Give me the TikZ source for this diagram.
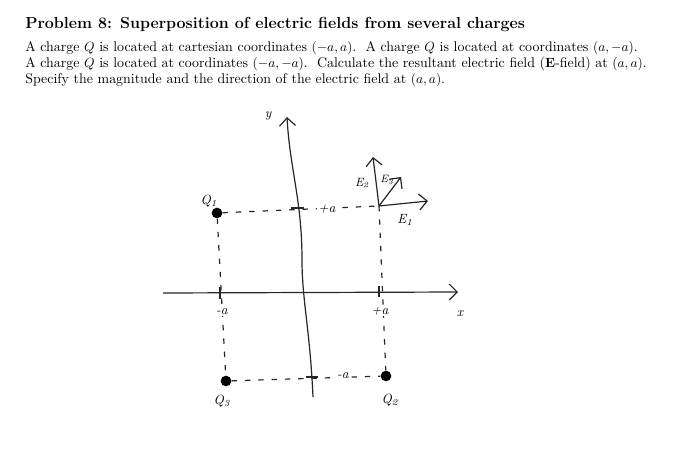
\documentclass[tikz,border=0pt]{standalone}
\usepackage{amsmath}
\usetikzlibrary{arrows.meta}
\begin{document}
\begin{tikzpicture}[x=0.75pt,y=-0.75pt,
  hand/.style={line width=0.9pt,black!85},
  guide/.style={line width=0.9pt,black!85,dash pattern=on 4pt off 6pt},
  lab/.style={font=\normalsize\itshape,inner sep=1pt},
  chg/.style={circle,fill=black,inner sep=0pt,minimum size=8pt},
  arr/.style={-{Straight Barb[length=6pt]}},
  txt/.style={anchor=base west,inner sep=0pt,font=\fontsize{10.45}{12}\selectfont}]
\useasboundingbox (0,0) rectangle (676,464);
\node[txt,font=\large\bfseries] (title) at (25,28) {Problem 8: Superposition of electric fields from several charges};
\node[txt] (l1) at (25,51) {A charge $Q$ is located at cartesian coordinates $(-a,a)$.\ \ A charge $Q$ is located at coordinates $(a,-a)$.};
\node[txt] (l2) at (25,67) {A charge $Q$ is located at coordinates $(-a,-a)$.\ \ Calculate the resultant electric field ($\mathbf{E}$-field) at $(a,a)$.};
\node[txt] (l3) at (25,83) {Specify the magnitude and the direction of the electric field at $(a,a)$.};
% axes
\coordinate (xl) at (163,293); \coordinate (xr) at (458,292);
\coordinate (yb) at (313,397); \coordinate (yt) at (287,117);
\draw[hand,arr] (xl) -- (xr);
\draw[hand,arr] (yb) .. controls (310,330) and (302,300) .. (302,260) .. controls (302,200) and (290,170) .. (yt);
\node[lab] (ylab) at (268,116) {y};
\node[lab] (xlab) at (460,314) {x};
% charges
\node[chg] (q1) at (217,213) {};
\node[chg] (q3) at (226,381) {};
\node[chg] (q2) at (386,376) {};
\coordinate (p) at (379,206);
\node[lab] (q1l) at (209,201) {Q\textsubscript{1}};
\node[lab] (q3l) at (222,401) {Q\textsubscript{3}};
\node[lab] (q2l) at (390,400) {Q\textsubscript{2}};
% dashed guides
\draw[guide] (q1) -- (p);
\draw[guide] (q1) -- (q3);
\draw[guide] (q3) -- (q2);
\draw[guide] (p) -- (q2);
% ticks
\draw[hand] (220,287) -- (220,299);
\draw[hand] (379,286) -- (379,297);
\draw[hand] (291,208) -- (304,208);
\draw[hand] (306,377) -- (318,377);
\node[lab,fill=white] (ta) at (327,209) {+a};
\node[lab,fill=white] (ba) at (343,376) {-a};
\node[lab,fill=white] (ma) at (222,312) {-a};
\node[lab,fill=white] (pa) at (380,311) {+a};
% field vectors
\draw[hand,arr] (p) -- (373,157);
\draw[hand,arr] (p) -- (401,177);
\draw[hand,arr] (p) -- (428,201);
\node[lab,font=\small\itshape] (e2) at (362,183) {E\textsubscript{2}};
\node[lab,font=\footnotesize\itshape] (e3) at (387,180) {E\textsubscript{3}};
\node[lab] (e1) at (405,220) {E\textsubscript{1}};
\end{tikzpicture}
\end{document}
